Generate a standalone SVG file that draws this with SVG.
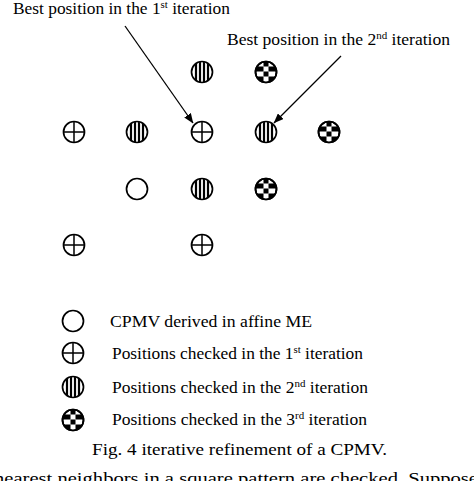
<svg xmlns="http://www.w3.org/2000/svg" xmlns:xlink="http://www.w3.org/1999/xlink" width="474" height="481" viewBox="0 0 474 481">
<style>
.t{font-family:'Liberation Serif','DejaVu Serif',serif;fill:#000}
.ring{fill:#fff;stroke:#000;stroke-width:1.7}
.ln{stroke:#000;stroke-width:1.5;fill:none}
.bar{stroke:#000;stroke-width:2.2}
.conn{stroke:#000;stroke-width:1.3;fill:none}
</style>
<defs>
<clipPath id="cc"><circle cx="0" cy="0" r="10.3"/></clipPath>
<marker id="ah" markerWidth="10" markerHeight="8" refX="9.5" refY="4" orient="auto" markerUnits="userSpaceOnUse">
<path d="M0,0 L10,4 L0,8 Z" fill="#000"/>
</marker>
<g id="s-empty"><circle class="ring" r="10.5"/></g>
<g id="s-cross"><circle class="ring" r="10.5"/><path class="ln" d="M-10.5,0H10.5M0,-10.5V10.5"/></g>
<g id="s-stripe"><circle class="ring" r="10.5"/><g clip-path="url(#cc)"><path class="bar" d="M-6,-11V11M-2,-11V11M2,-11V11M6,-11V11"/></g></g>
<g id="s-check"><circle class="ring" r="10.5"/><g clip-path="url(#cc)" fill="#000">
<rect x="-2.5" y="-10.5" width="5" height="5"/><rect x="-10.5" y="-5.5" width="8" height="5"/><rect x="2.5" y="-5.5" width="8" height="5"/>
<rect x="-2.5" y="-0.5" width="5" height="5"/><rect x="-10.5" y="4.5" width="8" height="6"/><rect x="2.5" y="4.5" width="8" height="6"/></g><circle r="10.5" fill="none" stroke="#000" stroke-width="1.7"/></g>
</defs>
<rect width="474" height="481" fill="#fff"/>
<g id="labels">
<text class="t" font-family="'Liberation Serif', serif" font-size="16" x="13" y="14" textLength="217" lengthAdjust="spacingAndGlyphs">Best position  in the 1<tspan font-size="10" dy="-6">st</tspan><tspan dy="6"> iteration</tspan></text>
<text class="t" font-family="'Liberation Serif', serif" font-size="16" x="227" y="45" textLength="223" lengthAdjust="spacingAndGlyphs">Best position  in the 2<tspan font-size="10" dy="-6">nd</tspan><tspan dy="6"> iteration</tspan></text>
</g>
<g id="connectors">
<line class="conn" x1="125" y1="26" x2="193" y2="123" marker-end="url(#ah)"/>
<line class="conn" x1="341" y1="56" x2="274" y2="123" marker-end="url(#ah)"/>
</g>
<g id="n-r1c3"><use xlink:href="#s-stripe" x="202" y="72"/></g>
<g id="n-r1c4"><use xlink:href="#s-check" x="266" y="72"/></g>
<g id="n-r2c1"><use xlink:href="#s-cross" x="74" y="132"/></g>
<g id="n-r2c2"><use xlink:href="#s-stripe" x="137" y="132"/></g>
<g id="n-r2c3"><use xlink:href="#s-cross" x="202" y="132"/></g>
<g id="n-r2c4"><use xlink:href="#s-stripe" x="266" y="132"/></g>
<g id="n-r2c5"><use xlink:href="#s-check" x="329" y="132"/></g>
<g id="n-r3c2"><use xlink:href="#s-empty" x="137" y="189"/></g>
<g id="n-r3c3"><use xlink:href="#s-stripe" x="202" y="189"/></g>
<g id="n-r3c4"><use xlink:href="#s-check" x="266" y="189"/></g>
<g id="n-r4c1"><use xlink:href="#s-cross" x="74" y="245"/></g>
<g id="n-r4c3"><use xlink:href="#s-cross" x="202" y="245"/></g>
<g id="legend">
<use xlink:href="#s-empty" x="73" y="321"/>
<use xlink:href="#s-cross" x="73" y="353"/>
<use xlink:href="#s-stripe" x="73" y="387"/>
<use xlink:href="#s-check" x="73" y="420"/>
<text class="t" font-family="'Liberation Serif', serif" font-size="16" x="110" y="327" textLength="202" lengthAdjust="spacingAndGlyphs">CPMV derived  in affine  ME</text>
<text class="t" font-family="'Liberation Serif', serif" font-size="16" x="112" y="359" textLength="251" lengthAdjust="spacingAndGlyphs">Positions  checked in the 1<tspan font-size="10" dy="-6">st</tspan><tspan dy="6"> iteration</tspan></text>
<text class="t" font-family="'Liberation Serif', serif" font-size="16" x="112" y="393" textLength="256" lengthAdjust="spacingAndGlyphs">Positions  checked in the 2<tspan font-size="10" dy="-6">nd</tspan><tspan dy="6"> iteration</tspan></text>
<text class="t" font-family="'Liberation Serif', serif" font-size="16" x="112" y="425" textLength="255" lengthAdjust="spacingAndGlyphs">Positions  checked in the 3<tspan font-size="10" dy="-6">rd</tspan><tspan dy="6"> iteration</tspan></text>
<text class="t" font-family="'Liberation Serif', serif" font-size="16" x="92" y="455" textLength="295" lengthAdjust="spacingAndGlyphs">Fig. 4 iterative refinement of a CPMV.</text>
</g>
<text class="t" font-family="'Liberation Serif', serif" font-size="17" x="-6" y="484" textLength="484" lengthAdjust="spacingAndGlyphs">nearest neighbors in a square pattern are checked. Suppose</text>
</svg>
